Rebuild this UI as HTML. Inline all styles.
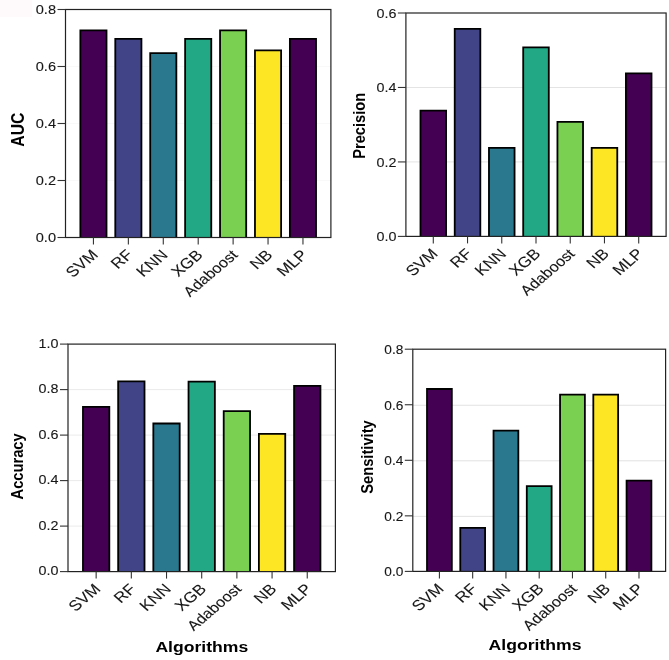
<!DOCTYPE html><html><head><meta charset="utf-8"><style>html,body{margin:0;padding:0;background:#fff;}svg{display:block;will-change:transform;}text{font-family:"Liberation Sans",sans-serif;}</style></head><body>
<svg width="669" height="660" viewBox="0 0 669 660">
<rect x="0" y="0" width="669" height="660" fill="#ffffff"/>
<rect x="0" y="0" width="32" height="17" fill="#fefafc"/>
<line x1="65.5" y1="180.5" x2="330.9" y2="180.5" stroke="#f9f9f9" stroke-width="1"/>
<line x1="65.5" y1="123.5" x2="330.9" y2="123.5" stroke="#f9f9f9" stroke-width="1"/>
<line x1="65.5" y1="66.5" x2="330.9" y2="66.5" stroke="#f9f9f9" stroke-width="1"/>
<path d="M80.37 237.5V30.35H106.51V237.5Z" fill="#440154" stroke="none"/>
<path d="M80.37 237.5V30.35H106.51V237.5" fill="none" stroke="#000" stroke-width="1.8" stroke-linejoin="miter"/>
<path d="M115.29 237.5V38.9H141.43V237.5Z" fill="#414487" stroke="none"/>
<path d="M115.29 237.5V38.9H141.43V237.5" fill="none" stroke="#000" stroke-width="1.8" stroke-linejoin="miter"/>
<path d="M150.21 237.5V53.15H176.35V237.5Z" fill="#2A788E" stroke="none"/>
<path d="M150.21 237.5V53.15H176.35V237.5" fill="none" stroke="#000" stroke-width="1.8" stroke-linejoin="miter"/>
<path d="M185.13 237.5V38.9H211.27V237.5Z" fill="#22A884" stroke="none"/>
<path d="M185.13 237.5V38.9H211.27V237.5" fill="none" stroke="#000" stroke-width="1.8" stroke-linejoin="miter"/>
<path d="M220.05 237.5V30.35H246.19V237.5Z" fill="#7AD151" stroke="none"/>
<path d="M220.05 237.5V30.35H246.19V237.5" fill="none" stroke="#000" stroke-width="1.8" stroke-linejoin="miter"/>
<path d="M254.97 237.5V50.3H281.11V237.5Z" fill="#FDE725" stroke="none"/>
<path d="M254.97 237.5V50.3H281.11V237.5" fill="none" stroke="#000" stroke-width="1.8" stroke-linejoin="miter"/>
<path d="M289.89 237.5V38.9H316.03V237.5Z" fill="#440154" stroke="none"/>
<path d="M289.89 237.5V38.9H316.03V237.5" fill="none" stroke="#000" stroke-width="1.8" stroke-linejoin="miter"/>
<rect x="65.5" y="9.5" width="265.4" height="228" fill="none" stroke="#222222" stroke-width="1.2"/>
<line x1="57.5" y1="237.5" x2="65.5" y2="237.5" stroke="#333333" stroke-width="1.1"/>
<g transform="translate(56,241.5) scale(1.14,1)"><text x="0" y="0" text-anchor="end" font-size="12.8" fill="#161616" stroke="#161616" stroke-width="0.1">0.0</text></g>
<line x1="57.5" y1="180.5" x2="65.5" y2="180.5" stroke="#333333" stroke-width="1.1"/>
<g transform="translate(56,184.5) scale(1.14,1)"><text x="0" y="0" text-anchor="end" font-size="12.8" fill="#161616" stroke="#161616" stroke-width="0.1">0.2</text></g>
<line x1="57.5" y1="123.5" x2="65.5" y2="123.5" stroke="#333333" stroke-width="1.1"/>
<g transform="translate(56,127.5) scale(1.14,1)"><text x="0" y="0" text-anchor="end" font-size="12.8" fill="#161616" stroke="#161616" stroke-width="0.1">0.4</text></g>
<line x1="57.5" y1="66.5" x2="65.5" y2="66.5" stroke="#333333" stroke-width="1.1"/>
<g transform="translate(56,70.5) scale(1.14,1)"><text x="0" y="0" text-anchor="end" font-size="12.8" fill="#161616" stroke="#161616" stroke-width="0.1">0.6</text></g>
<line x1="57.5" y1="9.5" x2="65.5" y2="9.5" stroke="#333333" stroke-width="1.1"/>
<g transform="translate(56,13.5) scale(1.14,1)"><text x="0" y="0" text-anchor="end" font-size="12.8" fill="#161616" stroke="#161616" stroke-width="0.1">0.8</text></g>
<line x1="93.44" y1="237.5" x2="93.44" y2="244.5" stroke="#333333" stroke-width="1.1"/>
<g transform="translate(90.44,248.5) scale(1.17,1) rotate(-45)"><text x="0" y="0" text-anchor="end" dominant-baseline="hanging" font-size="14.6" fill="#161616" stroke="#161616" stroke-width="0.1">SVM</text></g>
<line x1="128.36" y1="237.5" x2="128.36" y2="244.5" stroke="#333333" stroke-width="1.1"/>
<g transform="translate(125.36,248.5) scale(1.17,1) rotate(-45)"><text x="0" y="0" text-anchor="end" dominant-baseline="hanging" font-size="14.6" fill="#161616" stroke="#161616" stroke-width="0.1">RF</text></g>
<line x1="163.28" y1="237.5" x2="163.28" y2="244.5" stroke="#333333" stroke-width="1.1"/>
<g transform="translate(160.28,248.5) scale(1.17,1) rotate(-45)"><text x="0" y="0" text-anchor="end" dominant-baseline="hanging" font-size="14.6" fill="#161616" stroke="#161616" stroke-width="0.1">KNN</text></g>
<line x1="198.2" y1="237.5" x2="198.2" y2="244.5" stroke="#333333" stroke-width="1.1"/>
<g transform="translate(195.2,248.5) scale(1.17,1) rotate(-45)"><text x="0" y="0" text-anchor="end" dominant-baseline="hanging" font-size="14.6" fill="#161616" stroke="#161616" stroke-width="0.1">XGB</text></g>
<line x1="233.12" y1="237.5" x2="233.12" y2="244.5" stroke="#333333" stroke-width="1.1"/>
<g transform="translate(230.12,248.5) scale(1.17,1) rotate(-45)"><text x="0" y="0" text-anchor="end" dominant-baseline="hanging" font-size="13.943" fill="#161616" stroke="#161616" stroke-width="0.1">Adaboost</text></g>
<line x1="268.04" y1="237.5" x2="268.04" y2="244.5" stroke="#333333" stroke-width="1.1"/>
<g transform="translate(265.04,248.5) scale(1.17,1) rotate(-45)"><text x="0" y="0" text-anchor="end" dominant-baseline="hanging" font-size="14.6" fill="#161616" stroke="#161616" stroke-width="0.1">NB</text></g>
<line x1="302.96" y1="237.5" x2="302.96" y2="244.5" stroke="#333333" stroke-width="1.1"/>
<g transform="translate(299.96,248.5) scale(1.17,1) rotate(-45)"><text x="0" y="0" text-anchor="end" dominant-baseline="hanging" font-size="14.6" fill="#161616" stroke="#161616" stroke-width="0.1">MLP</text></g>
<g transform="translate(23.6,129.7) scale(1.17,1) rotate(-90)"><text x="0" y="0" text-anchor="middle" font-size="15.7" font-weight="bold" fill="#000">AUC</text></g>
<line x1="405.9" y1="161.93" x2="666.1" y2="161.93" stroke="#e4e4e4" stroke-width="1"/>
<line x1="405.9" y1="87.47" x2="666.1" y2="87.47" stroke="#e4e4e4" stroke-width="1"/>
<path d="M420.49 236.4V110.71H446.08V236.4Z" fill="#440154" stroke="none"/>
<path d="M420.49 236.4V110.71H446.08V236.4" fill="none" stroke="#000" stroke-width="1.8" stroke-linejoin="miter"/>
<path d="M454.73 236.4V28.79H480.32V236.4Z" fill="#414487" stroke="none"/>
<path d="M454.73 236.4V28.79H480.32V236.4" fill="none" stroke="#000" stroke-width="1.8" stroke-linejoin="miter"/>
<path d="M488.97 236.4V147.94H514.56V236.4Z" fill="#2A788E" stroke="none"/>
<path d="M488.97 236.4V147.94H514.56V236.4" fill="none" stroke="#000" stroke-width="1.8" stroke-linejoin="miter"/>
<path d="M523.21 236.4V47.41H548.79V236.4Z" fill="#22A884" stroke="none"/>
<path d="M523.21 236.4V47.41H548.79V236.4" fill="none" stroke="#000" stroke-width="1.8" stroke-linejoin="miter"/>
<path d="M557.44 236.4V121.88H583.03V236.4Z" fill="#7AD151" stroke="none"/>
<path d="M557.44 236.4V121.88H583.03V236.4" fill="none" stroke="#000" stroke-width="1.8" stroke-linejoin="miter"/>
<path d="M591.68 236.4V147.94H617.27V236.4Z" fill="#FDE725" stroke="none"/>
<path d="M591.68 236.4V147.94H617.27V236.4" fill="none" stroke="#000" stroke-width="1.8" stroke-linejoin="miter"/>
<path d="M625.92 236.4V73.47H651.51V236.4Z" fill="#440154" stroke="none"/>
<path d="M625.92 236.4V73.47H651.51V236.4" fill="none" stroke="#000" stroke-width="1.8" stroke-linejoin="miter"/>
<rect x="405.9" y="13" width="260.2" height="223.4" fill="none" stroke="#222222" stroke-width="1.2"/>
<line x1="397.9" y1="236.4" x2="405.9" y2="236.4" stroke="#333333" stroke-width="1.1"/>
<g transform="translate(396.4,241.4) scale(1.12,1)"><text x="0" y="0" text-anchor="end" font-size="12.8" fill="#161616" stroke="#161616" stroke-width="0.1">0.0</text></g>
<line x1="397.9" y1="161.93" x2="405.9" y2="161.93" stroke="#333333" stroke-width="1.1"/>
<g transform="translate(396.4,166.93) scale(1.12,1)"><text x="0" y="0" text-anchor="end" font-size="12.8" fill="#161616" stroke="#161616" stroke-width="0.1">0.2</text></g>
<line x1="397.9" y1="87.47" x2="405.9" y2="87.47" stroke="#333333" stroke-width="1.1"/>
<g transform="translate(396.4,92.47) scale(1.12,1)"><text x="0" y="0" text-anchor="end" font-size="12.8" fill="#161616" stroke="#161616" stroke-width="0.1">0.4</text></g>
<line x1="397.9" y1="13" x2="405.9" y2="13" stroke="#333333" stroke-width="1.1"/>
<g transform="translate(396.4,18) scale(1.12,1)"><text x="0" y="0" text-anchor="end" font-size="12.8" fill="#161616" stroke="#161616" stroke-width="0.1">0.6</text></g>
<line x1="433.29" y1="236.4" x2="433.29" y2="243.4" stroke="#333333" stroke-width="1.1"/>
<g transform="translate(430.29,247.4) scale(1.17,1) rotate(-45)"><text x="0" y="0" text-anchor="end" dominant-baseline="hanging" font-size="14.6" fill="#161616" stroke="#161616" stroke-width="0.1">SVM</text></g>
<line x1="467.53" y1="236.4" x2="467.53" y2="243.4" stroke="#333333" stroke-width="1.1"/>
<g transform="translate(464.53,247.4) scale(1.17,1) rotate(-45)"><text x="0" y="0" text-anchor="end" dominant-baseline="hanging" font-size="14.6" fill="#161616" stroke="#161616" stroke-width="0.1">RF</text></g>
<line x1="501.76" y1="236.4" x2="501.76" y2="243.4" stroke="#333333" stroke-width="1.1"/>
<g transform="translate(498.76,247.4) scale(1.17,1) rotate(-45)"><text x="0" y="0" text-anchor="end" dominant-baseline="hanging" font-size="14.6" fill="#161616" stroke="#161616" stroke-width="0.1">KNN</text></g>
<line x1="536" y1="236.4" x2="536" y2="243.4" stroke="#333333" stroke-width="1.1"/>
<g transform="translate(533,247.4) scale(1.17,1) rotate(-45)"><text x="0" y="0" text-anchor="end" dominant-baseline="hanging" font-size="14.6" fill="#161616" stroke="#161616" stroke-width="0.1">XGB</text></g>
<line x1="570.24" y1="236.4" x2="570.24" y2="243.4" stroke="#333333" stroke-width="1.1"/>
<g transform="translate(567.24,247.4) scale(1.17,1) rotate(-45)"><text x="0" y="0" text-anchor="end" dominant-baseline="hanging" font-size="13.943" fill="#161616" stroke="#161616" stroke-width="0.1">Adaboost</text></g>
<line x1="604.47" y1="236.4" x2="604.47" y2="243.4" stroke="#333333" stroke-width="1.1"/>
<g transform="translate(601.47,247.4) scale(1.17,1) rotate(-45)"><text x="0" y="0" text-anchor="end" dominant-baseline="hanging" font-size="14.6" fill="#161616" stroke="#161616" stroke-width="0.1">NB</text></g>
<line x1="638.71" y1="236.4" x2="638.71" y2="243.4" stroke="#333333" stroke-width="1.1"/>
<g transform="translate(635.71,247.4) scale(1.17,1) rotate(-45)"><text x="0" y="0" text-anchor="end" dominant-baseline="hanging" font-size="14.6" fill="#161616" stroke="#161616" stroke-width="0.1">MLP</text></g>
<g transform="translate(364.8,125.8) scale(1.17,1) rotate(-90)"><text x="0" y="0" text-anchor="middle" font-size="14.7" font-weight="bold" fill="#000">Precision</text></g>
<line x1="68" y1="526.1" x2="335.4" y2="526.1" stroke="#ebebeb" stroke-width="1"/>
<line x1="68" y1="480.6" x2="335.4" y2="480.6" stroke="#ebebeb" stroke-width="1"/>
<line x1="68" y1="435.1" x2="335.4" y2="435.1" stroke="#ebebeb" stroke-width="1"/>
<line x1="68" y1="389.6" x2="335.4" y2="389.6" stroke="#ebebeb" stroke-width="1"/>
<path d="M82.97 571.6V406.88H109.32V571.6Z" fill="#440154" stroke="none"/>
<path d="M82.97 571.6V406.88H109.32V571.6" fill="none" stroke="#000" stroke-width="1.8" stroke-linejoin="miter"/>
<path d="M118.16 571.6V381.4H144.51V571.6Z" fill="#414487" stroke="none"/>
<path d="M118.16 571.6V381.4H144.51V571.6" fill="none" stroke="#000" stroke-width="1.8" stroke-linejoin="miter"/>
<path d="M153.34 571.6V423.49H179.69V571.6Z" fill="#2A788E" stroke="none"/>
<path d="M153.34 571.6V423.49H179.69V571.6" fill="none" stroke="#000" stroke-width="1.8" stroke-linejoin="miter"/>
<path d="M188.53 571.6V381.63H214.87V571.6Z" fill="#22A884" stroke="none"/>
<path d="M188.53 571.6V381.63H214.87V571.6" fill="none" stroke="#000" stroke-width="1.8" stroke-linejoin="miter"/>
<path d="M223.71 571.6V411.2H250.06V571.6Z" fill="#7AD151" stroke="none"/>
<path d="M223.71 571.6V411.2H250.06V571.6" fill="none" stroke="#000" stroke-width="1.8" stroke-linejoin="miter"/>
<path d="M258.89 571.6V433.95H285.24V571.6Z" fill="#FDE725" stroke="none"/>
<path d="M258.89 571.6V433.95H285.24V571.6" fill="none" stroke="#000" stroke-width="1.8" stroke-linejoin="miter"/>
<path d="M294.08 571.6V385.95H320.43V571.6Z" fill="#440154" stroke="none"/>
<path d="M294.08 571.6V385.95H320.43V571.6" fill="none" stroke="#000" stroke-width="1.8" stroke-linejoin="miter"/>
<rect x="68" y="344.1" width="267.4" height="227.5" fill="none" stroke="#222222" stroke-width="1.2"/>
<line x1="60" y1="571.6" x2="68" y2="571.6" stroke="#333333" stroke-width="1.1"/>
<g transform="translate(58.5,575.1) scale(1.12,1)"><text x="0" y="0" text-anchor="end" font-size="12.8" fill="#161616" stroke="#161616" stroke-width="0.1">0.0</text></g>
<line x1="60" y1="526.1" x2="68" y2="526.1" stroke="#333333" stroke-width="1.1"/>
<g transform="translate(58.5,529.6) scale(1.12,1)"><text x="0" y="0" text-anchor="end" font-size="12.8" fill="#161616" stroke="#161616" stroke-width="0.1">0.2</text></g>
<line x1="60" y1="480.6" x2="68" y2="480.6" stroke="#333333" stroke-width="1.1"/>
<g transform="translate(58.5,484.1) scale(1.12,1)"><text x="0" y="0" text-anchor="end" font-size="12.8" fill="#161616" stroke="#161616" stroke-width="0.1">0.4</text></g>
<line x1="60" y1="435.1" x2="68" y2="435.1" stroke="#333333" stroke-width="1.1"/>
<g transform="translate(58.5,438.6) scale(1.12,1)"><text x="0" y="0" text-anchor="end" font-size="12.8" fill="#161616" stroke="#161616" stroke-width="0.1">0.6</text></g>
<line x1="60" y1="389.6" x2="68" y2="389.6" stroke="#333333" stroke-width="1.1"/>
<g transform="translate(58.5,393.1) scale(1.12,1)"><text x="0" y="0" text-anchor="end" font-size="12.8" fill="#161616" stroke="#161616" stroke-width="0.1">0.8</text></g>
<line x1="60" y1="344.1" x2="68" y2="344.1" stroke="#333333" stroke-width="1.1"/>
<g transform="translate(58.5,347.6) scale(1.12,1)"><text x="0" y="0" text-anchor="end" font-size="12.8" fill="#161616" stroke="#161616" stroke-width="0.1">1.0</text></g>
<line x1="96.15" y1="571.6" x2="96.15" y2="578.6" stroke="#333333" stroke-width="1.1"/>
<g transform="translate(93.15,582.6) scale(1.17,1) rotate(-45)"><text x="0" y="0" text-anchor="end" dominant-baseline="hanging" font-size="14.6" fill="#161616" stroke="#161616" stroke-width="0.1">SVM</text></g>
<line x1="131.33" y1="571.6" x2="131.33" y2="578.6" stroke="#333333" stroke-width="1.1"/>
<g transform="translate(128.33,582.6) scale(1.17,1) rotate(-45)"><text x="0" y="0" text-anchor="end" dominant-baseline="hanging" font-size="14.6" fill="#161616" stroke="#161616" stroke-width="0.1">RF</text></g>
<line x1="166.52" y1="571.6" x2="166.52" y2="578.6" stroke="#333333" stroke-width="1.1"/>
<g transform="translate(163.52,582.6) scale(1.17,1) rotate(-45)"><text x="0" y="0" text-anchor="end" dominant-baseline="hanging" font-size="14.6" fill="#161616" stroke="#161616" stroke-width="0.1">KNN</text></g>
<line x1="201.7" y1="571.6" x2="201.7" y2="578.6" stroke="#333333" stroke-width="1.1"/>
<g transform="translate(198.7,582.6) scale(1.17,1) rotate(-45)"><text x="0" y="0" text-anchor="end" dominant-baseline="hanging" font-size="14.6" fill="#161616" stroke="#161616" stroke-width="0.1">XGB</text></g>
<line x1="236.88" y1="571.6" x2="236.88" y2="578.6" stroke="#333333" stroke-width="1.1"/>
<g transform="translate(233.88,582.6) scale(1.17,1) rotate(-45)"><text x="0" y="0" text-anchor="end" dominant-baseline="hanging" font-size="13.943" fill="#161616" stroke="#161616" stroke-width="0.1">Adaboost</text></g>
<line x1="272.07" y1="571.6" x2="272.07" y2="578.6" stroke="#333333" stroke-width="1.1"/>
<g transform="translate(269.07,582.6) scale(1.17,1) rotate(-45)"><text x="0" y="0" text-anchor="end" dominant-baseline="hanging" font-size="14.6" fill="#161616" stroke="#161616" stroke-width="0.1">NB</text></g>
<line x1="307.25" y1="571.6" x2="307.25" y2="578.6" stroke="#333333" stroke-width="1.1"/>
<g transform="translate(304.25,582.6) scale(1.17,1) rotate(-45)"><text x="0" y="0" text-anchor="end" dominant-baseline="hanging" font-size="14.6" fill="#161616" stroke="#161616" stroke-width="0.1">MLP</text></g>
<g transform="translate(22.5,466.4) scale(1.17,1) rotate(-90)"><text x="0" y="0" text-anchor="middle" font-size="14.7" font-weight="bold" fill="#000">Accuracy</text></g>
<g transform="translate(201.8,652) scale(1.17,1)"><text x="0" y="0" text-anchor="middle" font-size="15.05" font-weight="bold" fill="#000">Algorithms</text></g>
<line x1="412.8" y1="516.35" x2="665.6" y2="516.35" stroke="#e2e2e2" stroke-width="1"/>
<line x1="412.8" y1="460.8" x2="665.6" y2="460.8" stroke="#e2e2e2" stroke-width="1"/>
<line x1="412.8" y1="405.25" x2="665.6" y2="405.25" stroke="#e2e2e2" stroke-width="1"/>
<path d="M427.01 571.4V388.99H451.82V571.4Z" fill="#440154" stroke="none"/>
<path d="M427.01 571.4V388.99H451.82V571.4" fill="none" stroke="#000" stroke-width="1.8" stroke-linejoin="miter"/>
<path d="M460.27 571.4V527.86H485.08V571.4Z" fill="#414487" stroke="none"/>
<path d="M460.27 571.4V527.86H485.08V571.4" fill="none" stroke="#000" stroke-width="1.8" stroke-linejoin="miter"/>
<path d="M493.53 571.4V430.65H518.34V571.4Z" fill="#2A788E" stroke="none"/>
<path d="M493.53 571.4V430.65H518.34V571.4" fill="none" stroke="#000" stroke-width="1.8" stroke-linejoin="miter"/>
<path d="M526.79 571.4V486.2H551.61V571.4Z" fill="#22A884" stroke="none"/>
<path d="M526.79 571.4V486.2H551.61V571.4" fill="none" stroke="#000" stroke-width="1.8" stroke-linejoin="miter"/>
<path d="M560.06 571.4V394.54H584.87V571.4Z" fill="#7AD151" stroke="none"/>
<path d="M560.06 571.4V394.54H584.87V571.4" fill="none" stroke="#000" stroke-width="1.8" stroke-linejoin="miter"/>
<path d="M593.32 571.4V394.54H618.13V571.4Z" fill="#FDE725" stroke="none"/>
<path d="M593.32 571.4V394.54H618.13V571.4" fill="none" stroke="#000" stroke-width="1.8" stroke-linejoin="miter"/>
<path d="M626.58 571.4V480.64H651.39V571.4Z" fill="#440154" stroke="none"/>
<path d="M626.58 571.4V480.64H651.39V571.4" fill="none" stroke="#000" stroke-width="1.8" stroke-linejoin="miter"/>
<rect x="412.8" y="349.2" width="252.8" height="222.2" fill="none" stroke="#222222" stroke-width="1.2"/>
<line x1="404.8" y1="571.4" x2="412.8" y2="571.4" stroke="#333333" stroke-width="1.1"/>
<g transform="translate(403.3,576.4) scale(1.07,1)"><text x="0" y="0" text-anchor="end" font-size="12.8" fill="#161616" stroke="#161616" stroke-width="0.1">0.0</text></g>
<line x1="404.8" y1="515.85" x2="412.8" y2="515.85" stroke="#333333" stroke-width="1.1"/>
<g transform="translate(403.3,520.85) scale(1.07,1)"><text x="0" y="0" text-anchor="end" font-size="12.8" fill="#161616" stroke="#161616" stroke-width="0.1">0.2</text></g>
<line x1="404.8" y1="460.3" x2="412.8" y2="460.3" stroke="#333333" stroke-width="1.1"/>
<g transform="translate(403.3,465.3) scale(1.07,1)"><text x="0" y="0" text-anchor="end" font-size="12.8" fill="#161616" stroke="#161616" stroke-width="0.1">0.4</text></g>
<line x1="404.8" y1="404.75" x2="412.8" y2="404.75" stroke="#333333" stroke-width="1.1"/>
<g transform="translate(403.3,409.75) scale(1.07,1)"><text x="0" y="0" text-anchor="end" font-size="12.8" fill="#161616" stroke="#161616" stroke-width="0.1">0.6</text></g>
<line x1="404.8" y1="349.2" x2="412.8" y2="349.2" stroke="#333333" stroke-width="1.1"/>
<g transform="translate(403.3,354.2) scale(1.07,1)"><text x="0" y="0" text-anchor="end" font-size="12.8" fill="#161616" stroke="#161616" stroke-width="0.1">0.8</text></g>
<line x1="439.41" y1="571.4" x2="439.41" y2="578.4" stroke="#333333" stroke-width="1.1"/>
<g transform="translate(436.41,582.4) scale(1.17,1) rotate(-45)"><text x="0" y="0" text-anchor="end" dominant-baseline="hanging" font-size="14.6" fill="#161616" stroke="#161616" stroke-width="0.1">SVM</text></g>
<line x1="472.67" y1="571.4" x2="472.67" y2="578.4" stroke="#333333" stroke-width="1.1"/>
<g transform="translate(469.67,582.4) scale(1.17,1) rotate(-45)"><text x="0" y="0" text-anchor="end" dominant-baseline="hanging" font-size="14.6" fill="#161616" stroke="#161616" stroke-width="0.1">RF</text></g>
<line x1="505.94" y1="571.4" x2="505.94" y2="578.4" stroke="#333333" stroke-width="1.1"/>
<g transform="translate(502.94,582.4) scale(1.17,1) rotate(-45)"><text x="0" y="0" text-anchor="end" dominant-baseline="hanging" font-size="14.6" fill="#161616" stroke="#161616" stroke-width="0.1">KNN</text></g>
<line x1="539.2" y1="571.4" x2="539.2" y2="578.4" stroke="#333333" stroke-width="1.1"/>
<g transform="translate(536.2,582.4) scale(1.17,1) rotate(-45)"><text x="0" y="0" text-anchor="end" dominant-baseline="hanging" font-size="14.6" fill="#161616" stroke="#161616" stroke-width="0.1">XGB</text></g>
<line x1="572.46" y1="571.4" x2="572.46" y2="578.4" stroke="#333333" stroke-width="1.1"/>
<g transform="translate(569.46,582.4) scale(1.17,1) rotate(-45)"><text x="0" y="0" text-anchor="end" dominant-baseline="hanging" font-size="13.943" fill="#161616" stroke="#161616" stroke-width="0.1">Adaboost</text></g>
<line x1="605.73" y1="571.4" x2="605.73" y2="578.4" stroke="#333333" stroke-width="1.1"/>
<g transform="translate(602.73,582.4) scale(1.17,1) rotate(-45)"><text x="0" y="0" text-anchor="end" dominant-baseline="hanging" font-size="14.6" fill="#161616" stroke="#161616" stroke-width="0.1">NB</text></g>
<line x1="638.99" y1="571.4" x2="638.99" y2="578.4" stroke="#333333" stroke-width="1.1"/>
<g transform="translate(635.99,582.4) scale(1.17,1) rotate(-45)"><text x="0" y="0" text-anchor="end" dominant-baseline="hanging" font-size="14.6" fill="#161616" stroke="#161616" stroke-width="0.1">MLP</text></g>
<g transform="translate(372.5,457) scale(1.17,1) rotate(-90)"><text x="0" y="0" text-anchor="middle" font-size="14.7" font-weight="bold" fill="#000">Sensitivity</text></g>
<g transform="translate(535,649.8) scale(1.17,1)"><text x="0" y="0" text-anchor="middle" font-size="15.05" font-weight="bold" fill="#000">Algorithms</text></g>
</svg></body></html>
